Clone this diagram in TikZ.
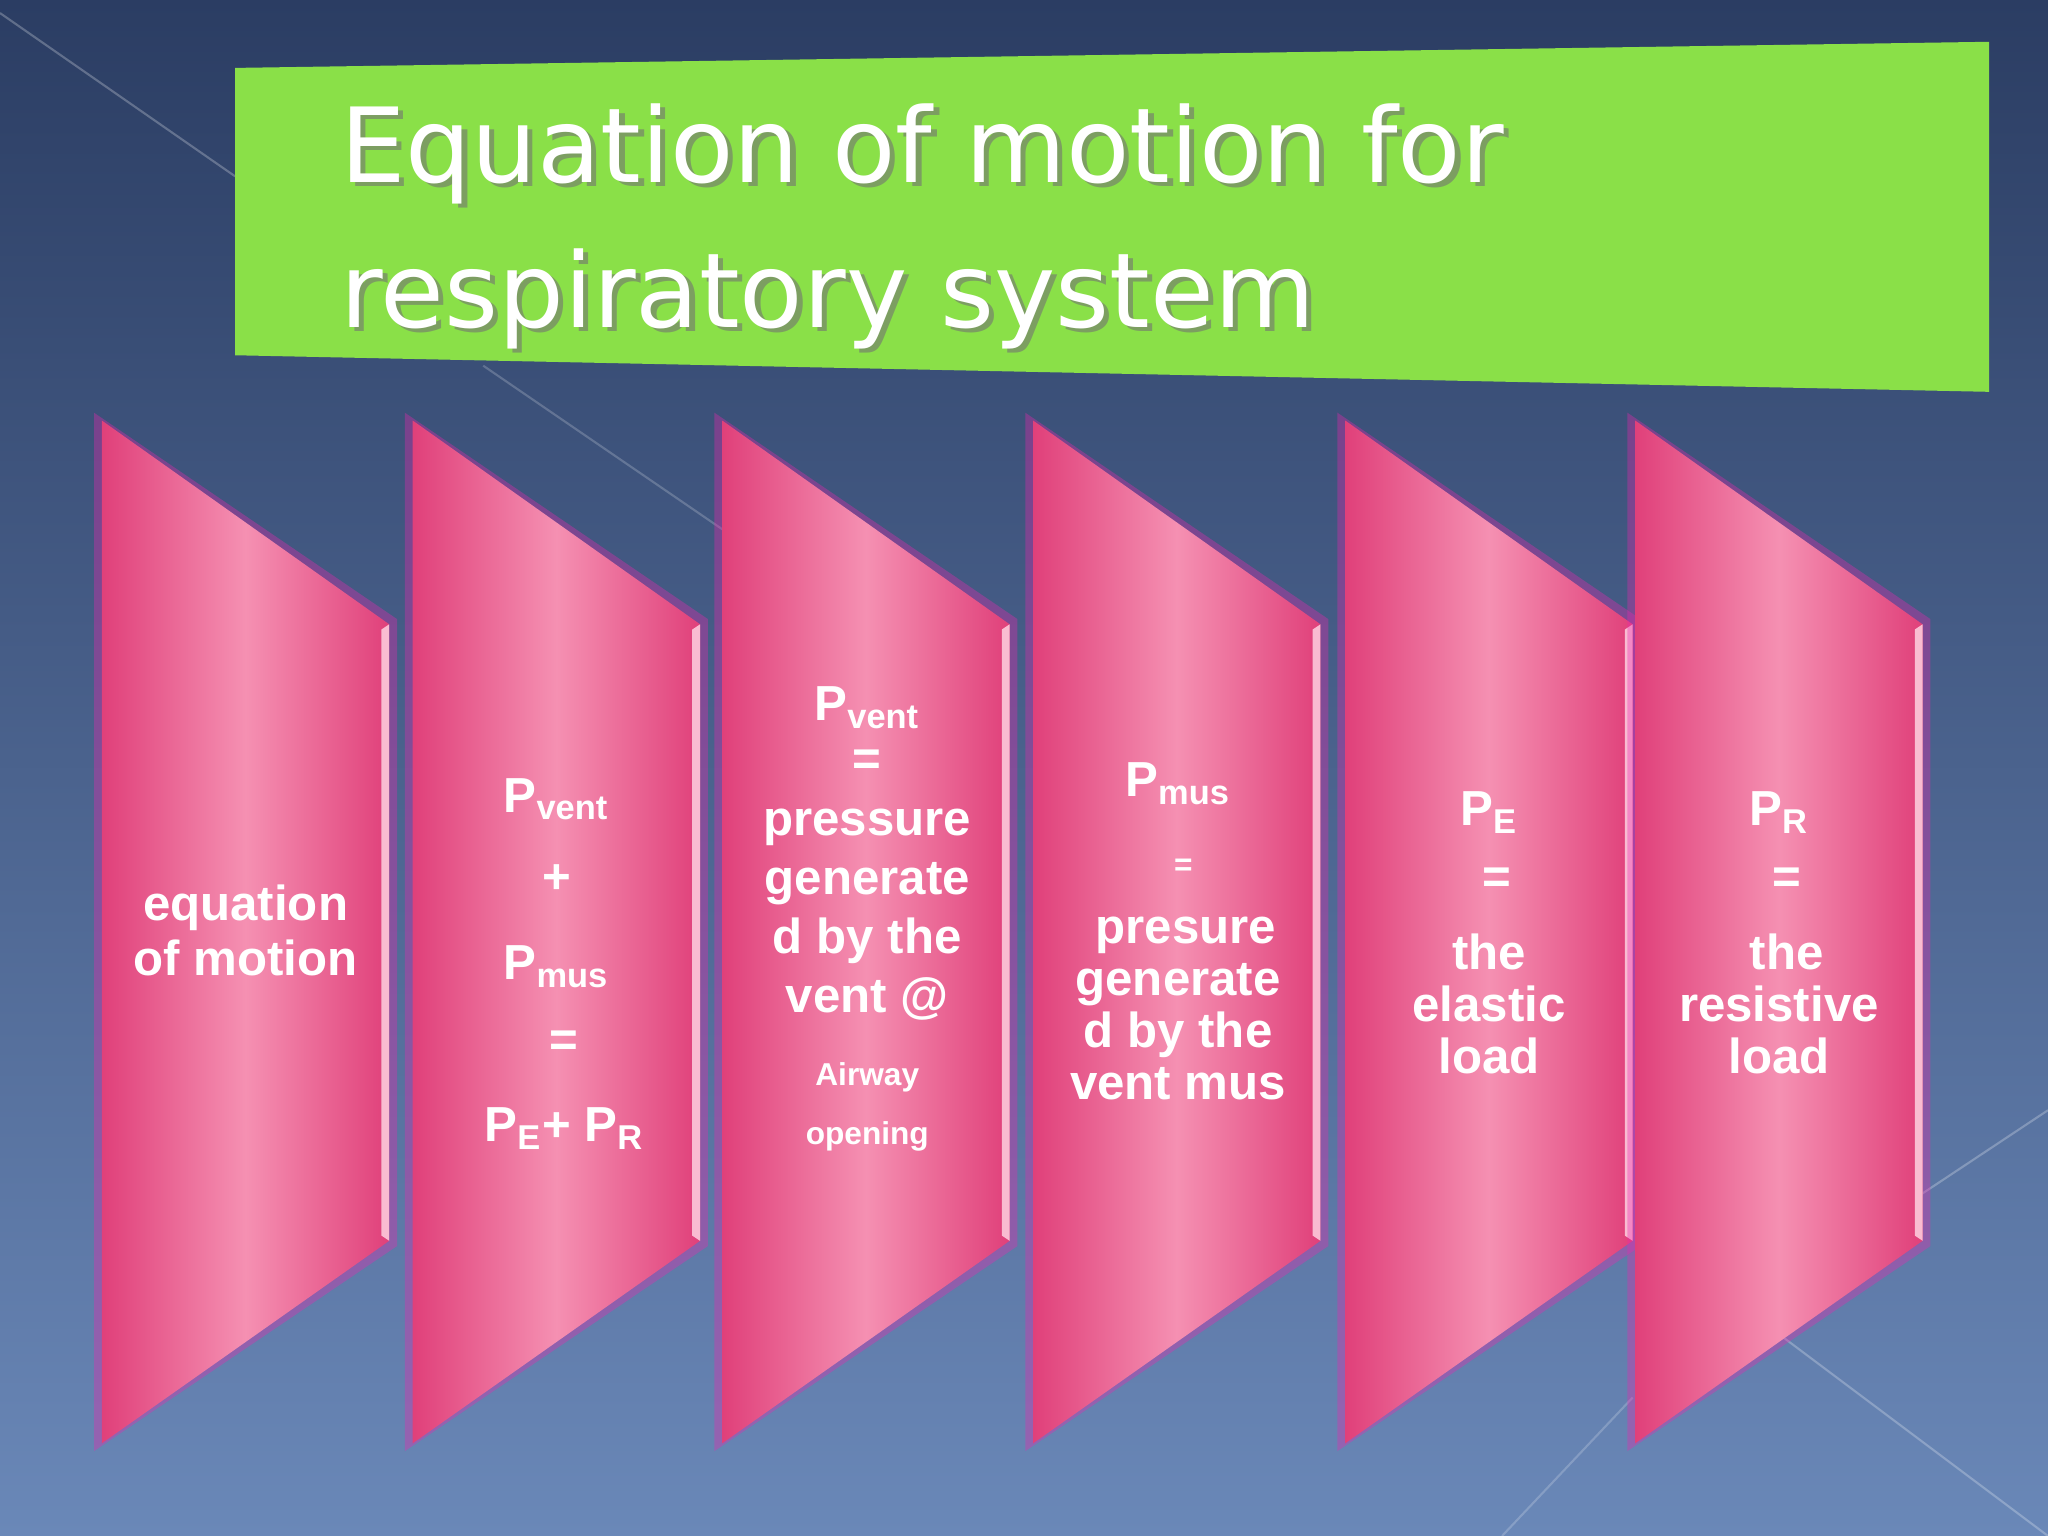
\documentclass[tikz,border=0pt]{standalone}
\usepackage{fontspec}
\setmainfont{Liberation Sans}
\newfontfamily\titlefont{DejaVu Sans}
\definecolor{bgtop}{HTML}{2B3D63}
\definecolor{bgbot}{HTML}{6A88B8}
\definecolor{banner}{HTML}{8AE048}
\definecolor{pinkd}{HTML}{E0407A}
\definecolor{pinkl}{HTML}{F590B2}
\begin{document}
\begin{tikzpicture}[x=0.013061cm,y=-0.013061cm,
  lbl/.style={text=white,font=\bfseries\fontsize{14}{16}\selectfont,inner sep=0pt,anchor=base},
  sml/.style={text=white,font=\bfseries\fontsize{9}{10}\selectfont,inner sep=0pt,anchor=base},
  ttl/.style={font=\titlefont\fontsize{29.5}{34}\selectfont,inner sep=0pt,anchor=base west}]
\shade[top color=bgtop,bottom color=bgbot] (0,0) rectangle (1568,1176);
\useasboundingbox (0,0) rectangle (1568,1176);
\draw[white,opacity=0.25,line width=0.6pt] (0,10) -- (180,135);
\draw[white,opacity=0.2,line width=0.6pt] (370,280) -- (560,410);
\draw[white,opacity=0.25,line width=0.6pt] (1568,850) -- (1470,915);
\draw[white,opacity=0.25,line width=0.6pt] (1360,1020) -- (1568,1176);
\draw[white,opacity=0.2,line width=0.6pt] (1250,1070) -- (1150,1176);
% banner
\fill[banner] (180,52) -- (1523,32) -- (1523,300) -- (180,272) -- cycle;
\node[ttl,text=black!55,opacity=0.6] (t1s) at (264,143) {Equation of motion for};
\node[ttl,text=black!55,opacity=0.6] (t2s) at (264,254) {respiratory system};
\node[ttl,text=white] (t1) at (260,140) {Equation of motion for};
\node[ttl,text=white] (t2) at (260,251) {respiratory system};
% chevrons
\foreach \x/\n in {78/a,316/b,553/c,791/d,1030/e,1252/f}{
  \fill[pinkd!60!magenta,opacity=0.35] (\x-6,316) -- (\x+226,474) -- (\x+226,954) -- (\x-6,1111) -- cycle;
  \shade[left color=pinkd,right color=pinkd,middle color=pinkl] (\x,322) -- (\x+220,478) -- (\x+220,950) -- (\x,1105) -- cycle;
  \fill[pinkl!60!white] (\x+214,482) -- (\x+220,478) -- (\x+220,950) -- (\x+214,946) -- cycle;
}
% col 1
\node[lbl] (a1) at (188,705) {equation};
\node[lbl] (a2) at (188,747) {of motion};
% col 2
\node[lbl] (b1) at (426,622) {P\textsubscript{vent}};
\node[lbl] (b2) at (426,684) {+};
\node[lbl] (b3) at (426,750) {P\textsubscript{mus}};
\node[lbl] (b4) at (432,809) {=};
\node[lbl] (b5) at (432,874) {P\textsubscript{E}+ P\textsubscript{R}};
% col 3
\node[lbl] (c1) at (664,552) {P\textsubscript{vent}};
\node[lbl] (c2) at (664,594) {=};
\node[lbl] (c3) at (664,640) {pressure};
\node[lbl] (c4) at (664,685) {generate};
\node[lbl] (c5) at (664,730) {d by the};
\node[lbl] (c6) at (664,775) {vent @};
\node[sml] (c7) at (664,831) {Airway};
\node[sml] (c8) at (664,876) {opening};
% col 4
\node[lbl] (d1) at (902,610) {P\textsubscript{mus}};
\node[sml] (d2) at (906,670) {=};
\node[lbl] (d3) at (908,722) {presure};
\node[lbl] (d4) at (902,762) {generate};
\node[lbl] (d5) at (902,802) {d by the};
\node[lbl] (d6) at (902,842) {vent mus};
% col 5
\node[lbl] (e1) at (1140,632) {P\textsubscript{E}};
\node[lbl] (e2) at (1146,684) {=};
\node[lbl] (e3) at (1140,742) {the};
\node[lbl] (e4) at (1140,782) {elastic};
\node[lbl] (e5) at (1140,822) {load};
% col 6
\node[lbl] (f1) at (1362,632) {P\textsubscript{R}};
\node[lbl] (f2) at (1368,684) {=};
\node[lbl] (f3) at (1368,742) {the};
\node[lbl] (f4) at (1362,782) {resistive};
\node[lbl] (f5) at (1362,822) {load};
\end{tikzpicture}
\end{document}
